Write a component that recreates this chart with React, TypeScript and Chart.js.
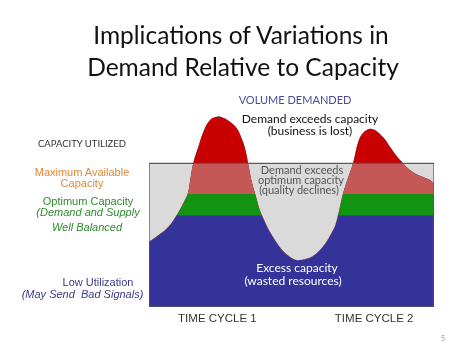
import React, { useEffect, useRef } from 'react';
import { Chart, registerables } from 'chart.js';

Chart.register(...registerables);

// Demand curve (x: time 0..100, y: volume, 100 = maximum available capacity)
const demandX = [0, 3.3, 6.8, 9.7, 12.0, 13.6, 14.5, 15.5, 17.3, 19.1, 21.4, 23.8, 26.0, 28.4, 30.8, 32.5, 33.7, 34.8, 36.1, 37.2, 39.6, 44.9, 49.5, 53.0, 58.9, 64.6, 66.3, 68.1, 69.8, 71.6, 73.3, 75.1, 78.2, 82.1, 84.6, 88.1, 92.6, 98.6, 100];
const demandY = [45.4, 50.1, 55.9, 64.0, 72.2, 79.1, 89.0, 100.0, 111.5, 122.0, 130.1, 132.4, 131.7, 128.9, 124.4, 117.4, 110.4, 100.0, 87.0, 79.3, 64.0, 44.5, 34.8, 32.7, 37.6, 53.6, 64.0, 79.3, 89.8, 100.2, 114.1, 121.1, 123.9, 118.3, 111.3, 102.3, 94.0, 88.4, 86.3];

// Capacity levels
const lowUtilizationTop = 63.7;
const optimumCapacityTop = 78.6;
const maximumCapacity = 100;
const volumeMax = 140;

// X axis labels
const timeCycleLabels = ['TIME CYCLE 1', 'TIME CYCLE 2'];
const timeCyclePositions = [24.0, 79.0];

const BLUE = '#333399';
const GREEN = '#129412';
const PINK = '#c65757';
const RED = '#c80000';
const GRAY = '#dadada';
const NONE = 'rgba(0,0,0,0)';

const level = (v: number) => [{ x: 0, y: v }, { x: 100, y: v }];

type LProps = { x: number; y: number; children: React.ReactNode; style?: React.CSSProperties };
const L = ({ x, y, children, style }: LProps) => (
  <div
    style={{
      position: 'absolute',
      left: x,
      top: y,
      transform: 'translate(-50%, -50%)',
      whiteSpace: 'pre',
      lineHeight: 1,
      textAlign: 'center',
      ...style,
    }}
  >
    {children}
  </div>
);

const calibri: React.CSSProperties = { fontFamily: 'Lato, "Open Sans", sans-serif' };
const arial: React.CSSProperties = { fontFamily: '"Liberation Sans", Arial, sans-serif' };

export default function App() {
  const ref = useRef<HTMLCanvasElement | null>(null);

  useEffect(() => {
    if (!ref.current) return;
    const demand = demandX.map((x, i) => ({ x, y: demandY[i] }));
    const chart = new Chart(ref.current, {
      type: 'line',
      data: {
        datasets: [
          {
            label: 'box',
            data: [{ x: 0, y: 0 }, { x: 0, y: maximumCapacity }, { x: 100, y: maximumCapacity }, { x: 100, y: 0 }, { x: 0, y: 0 }],
            borderColor: '#5a5a5a',
            borderWidth: 1.3,
            fill: false,
            pointRadius: 0,
            tension: 0,
            order: 0,
          },
          {
            label: 'maximum',
            data: level(maximumCapacity),
            borderColor: NONE,
            pointRadius: 0,
            tension: 0,
            fill: { target: 4, above: GRAY, below: RED },
            order: 1,
          },
          {
            label: 'optimum',
            data: level(optimumCapacityTop),
            borderColor: NONE,
            pointRadius: 0,
            tension: 0,
            fill: { target: 4, above: NONE, below: PINK },
            order: 2,
          },
          {
            label: 'low',
            data: level(lowUtilizationTop),
            borderColor: NONE,
            pointRadius: 0,
            tension: 0,
            fill: { target: 4, above: NONE, below: GREEN },
            order: 3,
          },
          {
            label: 'demand',
            data: demand,
            borderColor: NONE,
            backgroundColor: BLUE,
            pointRadius: 0,
            tension: 0.4,
            fill: 'origin',
            order: 4,
          },
        ],
      },
      options: {
        responsive: false,
        maintainAspectRatio: false,
        animation: false,
        devicePixelRatio: 1,
        layout: { padding: { left: 149, right: 40, top: 105.8, bottom: 0 } },
        plugins: {
          legend: { display: false },
          tooltip: { enabled: false },
          title: { display: false },
        },
        scales: {
          x: {
            type: 'linear',
            min: 0,
            max: 100,
            grid: { display: false, drawTicks: false },
            border: { display: false },
            afterBuildTicks: (axis: any) => {
              axis.ticks = timeCyclePositions.map((v) => ({ value: v }));
            },
            afterFit: (axis: any) => {
              axis.height = 48;
            },
            ticks: {
              autoSkip: false,
              maxRotation: 0,
              padding: 5,
              color: '#333333',
              font: { family: '"Liberation Sans", Arial, sans-serif', size: 11.5 },
              callback: (_v: any, i: number) => timeCycleLabels[i],
            },
          },
          y: {
            type: 'linear',
            display: false,
            min: 0,
            max: volumeMax,
          },
        },
      },
    } as any);
    return () => chart.destroy();
  }, []);

  return (
    <div style={{ position: 'absolute', left: 0, top: 0, width: 474, height: 355, background: '#fff', overflow: 'hidden' }}>
      <canvas ref={ref} width={474} height={355} style={{ position: 'absolute', left: 0, top: 0, width: 474, height: 355 }} />
      <L x={241} y={35} style={{ ...calibri, fontSize: 24.5, color: '#111' }}>Implications of Variations in</L>
      <L x={243} y={67} style={{ ...calibri, fontSize: 24.5, color: '#111' }}>Demand Relative to Capacity</L>

      <L x={295} y={99} style={{ ...calibri, fontSize: 11, color: '#4b4b9b' }}>VOLUME DEMANDED</L>
      <L x={310} y={119} style={{ ...calibri, fontSize: 12, color: '#111' }}>Demand exceeds capacity</L>
      <L x={310} y={131} style={{ ...calibri, fontSize: 12, color: '#111' }}>(business is lost)</L>

      <L x={302} y={169} style={{ ...calibri, fontSize: 11, color: '#555' }}>Demand exceeds</L>
      <L x={301} y={179} style={{ ...calibri, fontSize: 11, color: '#555' }}>optimum capacity</L>
      <L x={299} y={188.5} style={{ ...calibri, fontSize: 11, color: '#555' }}>(quality declines)</L>

      <L x={297} y={268} style={{ ...calibri, fontSize: 12, color: '#fff' }}>Excess capacity</L>
      <L x={293} y={281} style={{ ...calibri, fontSize: 12, color: '#fff' }}>(wasted resources)</L>

      <L x={82} y={144} style={{ ...calibri, fontSize: 9.5, color: '#333' }}>CAPACITY UTILIZED</L>
      <L x={82} y={172} style={{ ...arial, fontSize: 11, color: '#e0883a' }}>Maximum Available</L>
      <L x={82} y={182.5} style={{ ...arial, fontSize: 11, color: '#e0883a' }}>Capacity</L>
      <L x={88} y={201} style={{ ...arial, fontSize: 11, color: '#2e8b2e' }}>Optimum Capacity</L>
      <L x={88} y={212} style={{ ...arial, fontSize: 11, color: '#2e8b2e', fontStyle: 'italic' }}>(Demand and Supply</L>
      <L x={87} y={226.5} style={{ ...arial, fontSize: 11, color: '#2e8b2e', fontStyle: 'italic' }}>Well Balanced</L>
      <L x={98} y={282} style={{ ...arial, fontSize: 11, color: '#3a3a8a' }}>Low Utilization</L>
      <L x={82.5} y={293.5} style={{ ...arial, fontSize: 11, color: '#3a3a8a', fontStyle: 'italic' }}>(May Send  Bad Signals)</L>

      <L x={443} y={338} style={{ ...calibri, fontSize: 7, color: '#999' }}>5</L>
    </div>
  );
}
